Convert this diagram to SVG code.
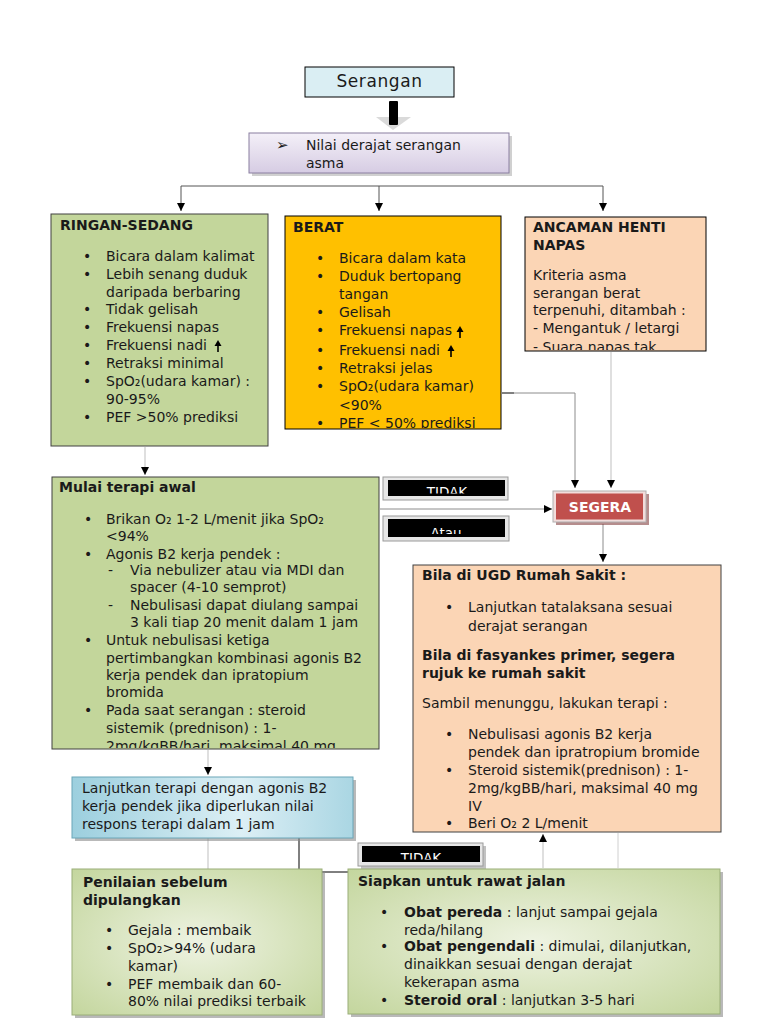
<svg xmlns="http://www.w3.org/2000/svg" width="768" height="1024" viewBox="0 0 768 1024">
<style>
.t{font-family:"DejaVu Sans",Verdana,sans-serif;font-size:14px;fill:#1a1a1a}
.b{font-weight:bold}
.w{fill:#ffffff}
.c{fill:none;stroke-width:1}
.box{stroke:#333;stroke-width:1}
</style>
<defs>
<marker id="ah" viewBox="0 0 8 8" refX="8" refY="4" markerWidth="8" markerHeight="8" markerUnits="userSpaceOnUse" orient="auto"><path d="M0,0 L8,4 L0,8 z" fill="#000"/></marker>
<linearGradient id="gPurple" x1="0" y1="0" x2="0" y2="1"><stop offset="0" stop-color="#f4f0f8"/><stop offset="1" stop-color="#d6cce3"/></linearGradient>
<linearGradient id="gBlue" x1="0" y1="0" x2="1" y2="0"><stop offset="0" stop-color="#9ccfde"/><stop offset="0.6" stop-color="#dcEff5"/><stop offset="1" stop-color="#aad6e3"/></linearGradient>
<radialGradient id="gGreen" cx="0.5" cy="0.5" r="0.7"><stop offset="0" stop-color="#eef3e2"/><stop offset="1" stop-color="#c4d69e"/></radialGradient>
<clipPath id="clipBerat"><rect x="285" y="216" width="216" height="212"/></clipPath>
<clipPath id="clipAnc"><rect x="525" y="217" width="181" height="133"/></clipPath>
<clipPath id="clipMulai"><rect x="52" y="477" width="327" height="271"/></clipPath>
<clipPath id="clipBila"><rect x="413" y="565" width="308" height="266"/></clipPath>
<clipPath id="clipT1"><rect x="388" y="480" width="117" height="13.5"/></clipPath>
<clipPath id="clipT2"><rect x="388" y="519" width="117" height="15"/></clipPath>
<clipPath id="clipT3"><rect x="362" y="846" width="118" height="13.5"/></clipPath>
</defs>

<g id="connectors">
<path class="c" d="M181,186 H603" stroke="#555"/>
<path class="c" d="M181,186 V211" stroke="#555" marker-end="url(#ah)"/>
<path class="c" d="M379,186 V211" stroke="#555" marker-end="url(#ah)"/>
<path class="c" d="M603,186 V211" stroke="#555" marker-end="url(#ah)"/>
<polygon points="376,117 411,117 393,130" fill="#dadada"/>
<rect x="389" y="101" width="9" height="24" rx="1" fill="#000"/>
<path class="c" d="M145,447 V475" stroke="#bfbfbf" marker-end="url(#ah)"/>
<path class="c" d="M502,393 H514" stroke="#000"/>
<path class="c" d="M514,393 H575 V488" stroke="#8c8c8c" marker-end="url(#ah)"/>
<path class="c" d="M611,352 V488" stroke="#bfbfbf" marker-end="url(#ah)"/>
<path class="c" d="M380,509 H552" stroke="#8c8c8c" marker-end="url(#ah)"/>
<path class="c" d="M603,524 V562" stroke="#8c8c8c" marker-end="url(#ah)"/>
<path class="c" d="M208,750 V775" stroke="#bfbfbf" marker-end="url(#ah)"/>
<path class="c" d="M208,838 V869" stroke="#bfbfbf"/>
<path class="c" d="M299,838 V872 H350" stroke="#000"/>
<path class="c" d="M543,868 V834" stroke="#bfbfbf" marker-end="url(#ah)"/>
<path class="c" d="M618,833 V868" stroke="#d0d0d0"/>
</g>

<g id="serangan">
<rect x="305" y="67" width="149" height="30" fill="#daeef3" stroke="#000"/>
<text class="t" x="379.5" y="87" text-anchor="middle" style="font-size:17px;letter-spacing:0.6px">Serangan</text>
</g>

<g id="nilai">
<rect x="252" y="136" width="260" height="40" fill="#b0b0b0" opacity="0.6"/>
<rect x="249" y="133" width="260" height="40" fill="url(#gPurple)" stroke="#8a7fa0"/>
<text class="t" x="276" y="150" style="font-size:15px">➢</text>
<text class="t" x="306" y="150">Nilai derajat serangan</text>
<text class="t" x="306" y="168">asma</text>
</g>

<g id="ringan">
<rect x="51" y="214" width="217" height="232" fill="#c3d69b" stroke="#404040"/>
<text class="t b" x="60" y="230">RINGAN-SEDANG</text>
<g class="t">
<text x="83" y="261">•</text><text x="106" y="261">Bicara dalam kalimat</text>
<text x="83" y="279">•</text><text x="106" y="279">Lebih senang duduk</text>
<text x="106" y="297">daripada berbaring</text>
<text x="83" y="314">•</text><text x="106" y="314">Tidak gelisah</text>
<text x="83" y="332">•</text><text x="106" y="332">Frekuensi napas</text>
<text x="83" y="350">•</text><text x="106" y="350">Frekuensi nadi</text>
<text x="83" y="368">•</text><text x="106" y="368">Retraksi minimal</text>
<text x="83" y="386">•</text><text x="106" y="386">SpO₂(udara kamar) :</text>
<text x="106" y="404">90-95%</text>
<text x="83" y="422">•</text><text x="106" y="422">PEF &gt;50% prediksi</text>
</g>
<path d="M218,352 V345" stroke="#000" stroke-width="1.6"/>
<path d="M214.5,346 L218,340 L221.5,346 z" fill="#000"/>
</g>

<g id="berat">
<rect x="285" y="216" width="216" height="213" fill="#ffc000" stroke="#000"/>
<text class="t b" x="293" y="232">BERAT</text>
<g class="t" clip-path="url(#clipBerat)">
<text x="316" y="263">•</text><text x="339" y="263">Bicara dalam kata</text>
<text x="316" y="281">•</text><text x="339" y="281">Duduk bertopang</text>
<text x="339" y="299">tangan</text>
<text x="316" y="317">•</text><text x="339" y="317">Gelisah</text>
<text x="316" y="335">•</text><text x="339" y="335">Frekuensi napas</text>
<text x="316" y="355">•</text><text x="339" y="355">Frekuensi nadi</text>
<text x="316" y="373">•</text><text x="339" y="373">Retraksi jelas</text>
<text x="316" y="391">•</text><text x="339" y="391">SpO₂(udara kamar)</text>
<text x="339" y="410">&lt;90%</text>
<text x="316" y="428">•</text><text x="339" y="428">PEF &lt; 50% prediksi</text>
</g>
<path d="M460,338 V331" stroke="#000" stroke-width="1.6"/>
<path d="M456.5,332 L460,326 L463.5,332 z" fill="#000"/>
<path d="M451,357 V350" stroke="#000" stroke-width="1.6"/>
<path d="M447.5,351 L451,345 L454.5,351 z" fill="#000"/>
</g>

<g id="ancaman">
<rect x="525" y="217" width="181" height="134" fill="#fbd5b5" stroke="#000"/>
<text class="t b" x="533" y="232">ANCAMAN HENTI</text>
<text class="t b" x="533" y="250">NAPAS</text>
<g class="t" clip-path="url(#clipAnc)">
<text x="533" y="280">Kriteria asma</text>
<text x="533" y="298">serangan berat</text>
<text x="533" y="315">terpenuhi, ditambah :</text>
<text x="533" y="333">- Mengantuk / letargi</text>
<text x="533" y="352">- Suara napas tak</text>
</g>
</g>

<g id="tidak1">
<rect x="383" y="477" width="125" height="23" fill="#e6e6e6" stroke="#9a9a9a"/>
<rect x="388" y="480" width="117" height="16" fill="#000"/>
<text class="t w" x="447" y="496.5" text-anchor="middle" clip-path="url(#clipT1)" style="font-size:13.5px">TIDAK</text>
</g>

<g id="atau">
<rect x="383" y="516" width="126" height="25" fill="#e6e6e6" stroke="#9a9a9a"/>
<rect x="388" y="519" width="117" height="18" fill="#000"/>
<text class="t w" x="446" y="537.5" text-anchor="middle" clip-path="url(#clipT2)" style="font-size:13.5px">Atau</text>
</g>

<g id="segera">
<rect x="556" y="494" width="93" height="31" fill="#7a3030" opacity="0.55"/>
<rect x="553" y="491" width="93" height="31" fill="#f2dcdb" stroke="#b0b0b0"/>
<rect x="556" y="493.5" width="87" height="26" fill="#c0504d"/>
<text class="t b w" x="600" y="511.5" text-anchor="middle">SEGERA</text>
</g>

<g id="mulai">
<rect x="52" y="477" width="327" height="272" fill="#c3d69b" stroke="#404040"/>
<text class="t b" x="59" y="492">Mulai terapi awal</text>
<g class="t" clip-path="url(#clipMulai)">
<text x="84" y="524">•</text><text x="106" y="524">Brikan O₂ 1-2 L/menit jika SpO₂</text>
<text x="106" y="541">&lt;94%</text>
<text x="84" y="559">•</text><text x="106" y="559">Agonis B2 kerja pendek :</text>
<text x="108" y="575">-</text><text x="130" y="575">Via nebulizer atau via MDI dan</text>
<text x="130" y="592">spacer (4-10 semprot)</text>
<text x="108" y="610">-</text><text x="130" y="610">Nebulisasi dapat diulang sampai</text>
<text x="130" y="627">3 kali tiap 20 menit dalam 1 jam</text>
<text x="84" y="645">•</text><text x="106" y="645">Untuk nebulisasi ketiga</text>
<text x="106" y="663">pertimbangkan kombinasi agonis B2</text>
<text x="106" y="680">kerja pendek dan ipratopium</text>
<text x="106" y="697">bromida</text>
<text x="84" y="715">•</text><text x="106" y="715">Pada saat serangan : steroid</text>
<text x="106" y="733">sistemik (prednison) : 1-</text>
<text x="106" y="751">2mg/kgBB/hari, maksimal 40 mg</text>
</g>
</g>

<g id="bila">
<rect x="413" y="565" width="308" height="267" fill="#fbd5b5" stroke="#404040"/>
<g class="t" clip-path="url(#clipBila)">
<text class="b" x="422" y="580">Bila di UGD Rumah Sakit :</text>
<text x="445" y="612">•</text><text x="468" y="612">Lanjutkan tatalaksana sesuai</text>
<text x="468" y="631">derajat serangan</text>
<text class="b" x="422" y="660">Bila di fasyankes primer, segera</text>
<text class="b" x="422" y="678">rujuk ke rumah sakit</text>
<text x="422" y="708">Sambil menunggu, lakukan terapi :</text>
<text x="445" y="739">•</text><text x="468" y="739">Nebulisasi agonis B2 kerja</text>
<text x="468" y="757">pendek dan ipratropium bromide</text>
<text x="445" y="775">•</text><text x="468" y="775">Steroid sistemik(prednison) : 1-</text>
<text x="468" y="793">2mg/kgBB/hari, maksimal 40 mg</text>
<text x="468" y="811">IV</text>
<text x="445" y="828">•</text><text x="468" y="828">Beri O₂ 2 L/menit</text>
</g>
</g>

<g id="lanjutkan">
<rect x="75" y="780" width="281" height="61" fill="#8a8a8a" opacity="0.6"/>
<rect x="72" y="777" width="281" height="61" fill="url(#gBlue)" stroke="#6aa6b8"/>
<text class="t" x="82" y="793">Lanjutkan terapi dengan agonis B2</text>
<text class="t" x="82" y="811">kerja pendek jika diperlukan nilai</text>
<text class="t" x="82" y="829">respons terapi dalam 1 jam</text>
</g>

<g id="tidak2">
<rect x="361" y="846" width="125" height="23" fill="#9a9a9a" opacity="0.6"/>
<rect x="358" y="843" width="125" height="23" fill="#e6e6e6" stroke="#9a9a9a"/>
<rect x="362" y="846" width="118" height="16" fill="#000"/>
<text class="t w" x="421" y="863" text-anchor="middle" clip-path="url(#clipT3)" style="font-size:13.5px">TIDAK</text>
</g>

<g id="penilaian">
<rect x="75" y="872" width="250" height="146" fill="#8a8a8a" opacity="0.6"/>
<rect x="72" y="869" width="250" height="146" fill="url(#gGreen)" stroke="#9aae78"/>
<text class="t b" x="83" y="887">Penilaian sebelum</text>
<text class="t b" x="83" y="905">dipulangkan</text>
<g class="t">
<text x="105" y="935">•</text><text x="128" y="935">Gejala : membaik</text>
<text x="105" y="953">•</text><text x="128" y="953">SpO₂&gt;94% (udara</text>
<text x="128" y="971">kamar)</text>
<text x="105" y="989">•</text><text x="128" y="989">PEF membaik dan 60-</text>
<text x="128" y="1006">80% nilai prediksi terbaik</text>
</g>
</g>

<g id="siapkan">
<rect x="351" y="872" width="372" height="145" fill="#8a8a8a" opacity="0.6"/>
<rect x="348" y="869" width="372" height="145" fill="url(#gGreen)" stroke="#9aae78"/>
<text class="t b" x="358" y="886">Siapkan untuk rawat jalan</text>
<g class="t">
<text x="380" y="917">•</text><text x="404" y="917"><tspan class="b">Obat pereda</tspan> : lanjut sampai gejala</text>
<text x="404" y="935">reda/hilang</text>
<text x="380" y="951">•</text><text x="404" y="951"><tspan class="b">Obat pengendali</tspan> : dimulai, dilanjutkan,</text>
<text x="404" y="969">dinaikkan sesuai dengan derajat</text>
<text x="404" y="987">kekerapan asma</text>
<text x="380" y="1005">•</text><text x="404" y="1005"><tspan class="b">Steroid oral</tspan> : lanjutkan 3-5 hari</text>
</g>
</g>
</svg>
